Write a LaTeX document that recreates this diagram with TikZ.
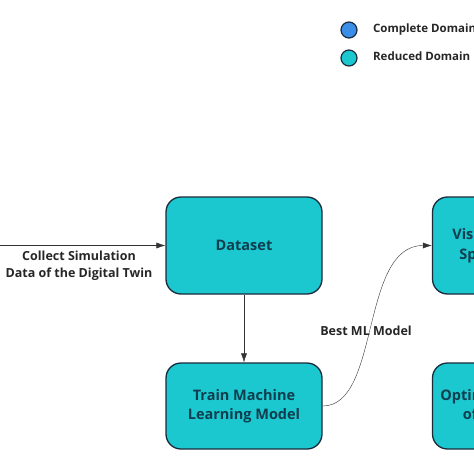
\documentclass[tikz,border=0pt]{standalone}
\usepackage{fontspec}
\setmainfont{Open Sans}
\usetikzlibrary{positioning, arrows.meta}
\definecolor{boxfill}{HTML}{1CC8D0}
\definecolor{boxline}{HTML}{1A2B3C}
\definecolor{boxtext}{HTML}{0F3E4E}
\definecolor{fullblue}{HTML}{3A8EE8}
\tikzset{
  stage/.style={draw=boxline, line width=1.3pt, fill=boxfill, rounded corners=15pt,
    minimum width=156pt, minimum height=97pt, inner sep=0pt, align=center,
    text=boxtext, font=\bfseries\fontsize{14.5}{19.5}\selectfont},
  flowlabel/.style={font=\bfseries\fontsize{12.5}{17}\selectfont, text=black!85, align=center},
  legtext/.style={font=\bfseries\fontsize{11.5}{14}\selectfont, text=black!85},
  legdot/.style={circle, draw=boxline, line width=1.2pt, minimum size=16pt, inner sep=0pt}
}
\begin{document}
\begin{tikzpicture}[>={Latex[length=9pt, width=6pt]}, x=1pt, y=-1pt]
\useasboundingbox (0,0) rectangle (474,474);
\clip (0,0) rectangle (474,474);
% legend
\node[legdot, fill=fullblue] (legfull) at (349,30) {};
\node[right=12pt of legfull, legtext] (legfulltext) {Complete Domain Exploration};
\node[legdot, fill=boxfill] (legred) at (349,58) {};
\node[right=12pt of legred, legtext] (legredtext) {Reduced Domain Exploration};
% stages
\node[stage] (dataset) at (244,245.5) {Dataset};
\node[stage, minimum height=86pt] (train) at (244,406) {Train Machine\\Learning Model};
\node[stage] (visual) at (510.5,245.5) {Visualize Design\\Space Regions};
\node[stage, minimum height=86pt] (optim) at (510.5,406) {Optimization Study\\of the Design};
% connectors
\coordinate (twin) at (-5,245.5);
\draw[->, black!80] (twin) -- (dataset.west);
\node[flowlabel] (collect) at (79,266) {Collect Simulation\\Data of the Digital Twin};
\draw[->, black!80] (dataset.south) -- (train.north);
\draw[->, black!80] (train.east) .. controls +(58,0) and +(-72,0) .. (visual.west);
\node[flowlabel] (bestml) at (366,331) {Best ML Model};
\end{tikzpicture}
\end{document}
